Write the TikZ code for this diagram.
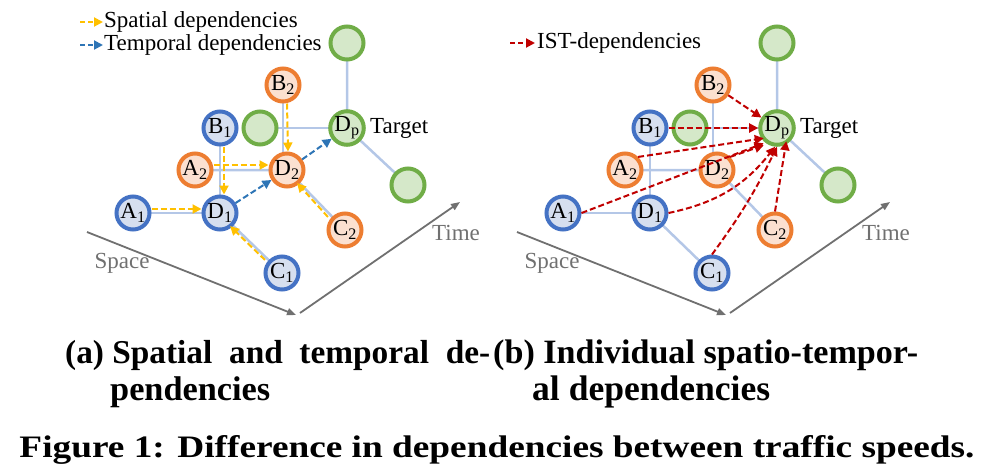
\documentclass[tikz,border=0pt]{standalone}
\usepackage{fontspec}
\setmainfont{Liberation Serif}
\usetikzlibrary{arrows.meta}
\definecolor{bB}{HTML}{4472C4}\definecolor{bF}{HTML}{D6DFEF}
\definecolor{oB}{HTML}{ED7D31}\definecolor{oF}{HTML}{FBE0D0}
\definecolor{gB}{HTML}{70AD47}\definecolor{gF}{HTML}{D5E8C9}
\definecolor{edg}{HTML}{B4C7E7}\definecolor{yel}{HTML}{FFC000}
\definecolor{blu}{HTML}{2E75B6}\definecolor{red}{HTML}{C00000}
\definecolor{axc}{HTML}{707070}
\tikzset{
 nd/.style={circle,minimum size=33pt,inner sep=0pt,line width=4pt,font=\fontsize{23}{23}\selectfont},
 bn/.style={nd,draw=bB,fill=bF}, on/.style={nd,draw=oB,fill=oF}, gn/.style={nd,draw=gB,fill=gF},
 ed/.style={draw=edg,line width=2.5pt},
 dep/.style={dash pattern=on 6pt off 3pt,line width=2pt,-{Triangle[length=9pt,width=9pt]}},
 sp/.style={dep,yel}, tp/.style={dep,blu}, ist/.style={dep,red},
 ax/.style={axc,line width=1.8pt,-{Triangle[length=9pt,width=7pt]}},
 lab/.style={font=\fontsize{23}{23}\selectfont,inner sep=0pt},
 axl/.style={font=\fontsize{23}{23}\selectfont,text=axc,inner sep=0pt},
 captxt/.style={font=\fontsize{27}{27}\selectfont\bfseries,inner sep=0pt,anchor=west},
}
\begin{document}
\begin{tikzpicture}[x=1pt,y=-1pt]
\useasboundingbox (0,0) rectangle (1005,475);
\foreach \p/\dx in {a/0,b/430}{
\begin{scope}[xshift=\dx pt]
 \coordinate (\p s0) at (87,232); \coordinate (\p s1) at (296,315);
 \coordinate (\p t0) at (300,313); \coordinate (\p t1) at (460,202);
 \draw[ax] (\p s0) -- (\p s1); \draw[ax] (\p t0) -- (\p t1);
 \node[axl] (\p sl) at (122,263) {Space};
 \node[axl] (\p tl) at (456,233) {Time};
 \draw[ed] (347,43) -- (347,128) -- (408,185);
 \draw[ed] (260,128) -- (347,128);
 \draw[ed] (283,85) -- (283,170);
 \draw[ed] (133,213) -- (220,213) -- (220,128);
 \draw[ed] (220,213) -- (282,273);
 \draw[ed] (195,170) -- (287,170) -- (345,230);
 \node[gn] (\p G1) at (347,43) {};
 \node[gn] (\p G3) at (408,185) {};
 \node[bn] (\p B1) at (220,128) {B\textsubscript{1}};
 \node[gn] (\p G2) at (260,128) {};
 \node[on] (\p B2) at (283,85) {B\textsubscript{2}};
 \node[gn] (\p Dp) at (347,128) {D\textsubscript{p}};
 \node[on] (\p A2) at (195,170) {A\textsubscript{2}};
 \node[on] (\p D2) at (287,170) {D\textsubscript{2}};
 \node[on] (\p C2) at (345,230) {C\textsubscript{2}};
 \node[bn] (\p A1) at (133,213) {A\textsubscript{1}};
 \node[bn] (\p D1) at (220,213) {D\textsubscript{1}};
 \node[bn] (\p C1) at (282,273) {C\textsubscript{1}};
 \node[lab,anchor=west] (\p tg) at (370,128) {Target};
\end{scope}}
% left arrows
\draw[sp] ([yshift=4pt]aA1.east) -- ([yshift=4pt]aD1.west);
\draw[sp] ([xshift=4pt]aB1.south) -- ([xshift=4pt]aD1.north);
\draw[sp] ([yshift=5pt]aA2.east) -- ([yshift=5pt]aD2.west);
\draw[sp] ([xshift=4pt]aB2.south) -- ([xshift=1pt]aD2.north);
\draw[sp] ([xshift=-4pt]aC1.north west) -- ([xshift=-3pt]aD1.south east);
\draw[sp] ([xshift=-4pt]aC2.north west) -- ([xshift=-3pt]aD2.south east);
\draw[tp] (aD1) -- (aD2);
\draw[tp] (aD2) -- (aDp);
% legends
\coordinate (l1a) at (80,22); \coordinate (l1b) at (103,22);
\coordinate (l2a) at (80,45); \coordinate (l2b) at (103,45);
\draw[sp,dash pattern=on 5pt off 3pt] (l1a) -- (l1b);
\draw[tp,dash pattern=on 5pt off 3pt] (l2a) -- (l2b);
\node[lab,anchor=west] (lt1) at (104,22) {Spatial dependencies};
\node[lab,anchor=west] (lt2) at (104,45) {Temporal dependencies};
\coordinate (l3a) at (510,43); \coordinate (l3b) at (535,43);
\draw[ist,dash pattern=on 5pt off 3pt] (l3a) -- (l3b);
\node[lab,anchor=west] (lt3) at (537,43) {IST-dependencies};
% right arrows
\draw[ist] (bB2) -- (bDp);
\draw[ist] (bB1) -- (bDp);
\draw[ist] (bA2.north east) -- ([yshift=3pt]bDp.south west);
\draw[ist] (bA1.east) -- ([yshift=-2pt]bDp.south west);
\draw[ist] (bD2.north east) -- ([yshift=-4pt]bDp.south west);
\draw[ist] (bD1.east) to[bend right=20] ([xshift=-2pt]bDp.south);
\draw[ist] (bC1.north) to[bend right=5] (bDp.south);
\draw[ist] (bC2.north) -- ([xshift=-4pt]bDp.south east);
% captions
\node[captxt] (ca) at (65,355) {\resizebox{425pt}{!}{(a) Spatial~ and~ temporal~ de-}};
\node[captxt] (ca2) at (110,392) {\resizebox{160pt}{!}{pendencies}};
\node[captxt] (cb) at (493,355) {\resizebox{425pt}{!}{(b) Individual spatio-tempor-}};
\node[captxt] (cb2) at (532,392) {\resizebox{238pt}{!}{al dependencies}};
\node[font=\fontsize{31}{31}\selectfont\bfseries,inner sep=0pt] (fig) at (497,450) {\resizebox{955pt}{22pt}{Figure 1: Difference in dependencies between traffic speeds.}};
\end{tikzpicture}
\end{document}
